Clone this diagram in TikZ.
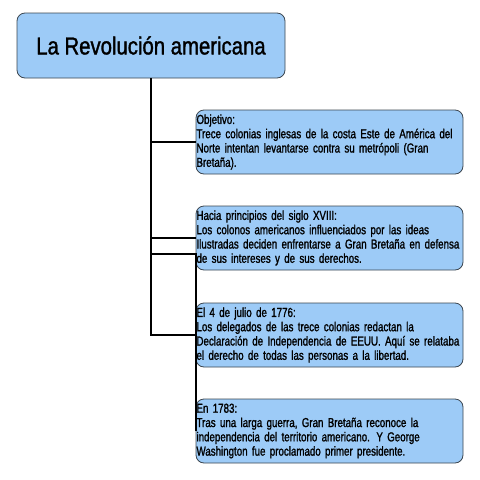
\documentclass[tikz,border=0pt]{standalone}
\usepackage{fontspec}
\setmainfont[FakeStretch=0.75,FakeBold=1.3]{Liberation Sans}
\newfontfamily\titlefamily[FakeStretch=0.83,FakeBold=1.3]{Liberation Sans}
\usepackage{tikz}

\definecolor{boxblue}{HTML}{9DCBF7}
\definecolor{boxline}{HTML}{3C4650}
\newcommand{\titlefont}{\titlefamily\fontsize{24.5}{28}\selectfont}
\newcommand{\infofont}{\fontsize{13}{14.3}\selectfont\spaceskip 2.6pt plus 1pt\relax\hyphenpenalty 10000\relax}

\begin{document}
\begin{tikzpicture}[x=1pt,y=-1pt,
    titlebox/.style={shape=rectangle,rounded corners=8pt,draw=boxline,fill=boxblue,
        line width=0.8pt,minimum width=268pt,minimum height=65pt,font=\titlefont},
    infobox/.style={shape=rectangle,rounded corners=8pt,draw=boxline,fill=boxblue,
        line width=0.8pt,text width=266pt,minimum height=64pt,inner xsep=0.5pt,inner ysep=0pt,
        align=left,font=\infofont},
    branch/.style={draw=black,line width=2pt}]
        \useasboundingbox (0,0) rectangle (480,480);

        \node[titlebox] (T) at (151,45.5) {La Revolución americana};
        \node[infobox] (A) at (329.5,142) {Objetivo:\\Trece colonias inglesas de la costa Este de América del\\Norte intentan levantarse contra su metrópoli (Gran\\Bretaña).};
        \node[infobox] (B) at (329.5,238) {Hacia principios del siglo XVIII:\\Los colonos americanos influenciados por las ideas\\Ilustradas deciden enfrentarse a Gran Bretaña en defensa\\de sus intereses y de sus derechos.};
        \node[infobox] (C) at (329.5,335) {El 4 de julio de 1776:\\Los delegados de las trece colonias redactan la\\Declaración de Independencia de EEUU. Aquí se relataba\\el derecho de todas las personas a la libertad.};
        \node[infobox] (D) at (329.5,431) {En 1783:\\Tras una larga guerra, Gran Bretaña reconoce la\\independencia del territorio americano. Y George\\Washington fue proclamado primer presidente.};
        \coordinate (J) at (151,254);

        \path [branch](T.south) |- (C.west);
        \path [branch](T.south |- A.west) -- (A.west);
        \path [branch](T.south |- B.west) -- (B.west);
        \path [branch](J) -| (D.west);
\end{tikzpicture}
\end{document}
